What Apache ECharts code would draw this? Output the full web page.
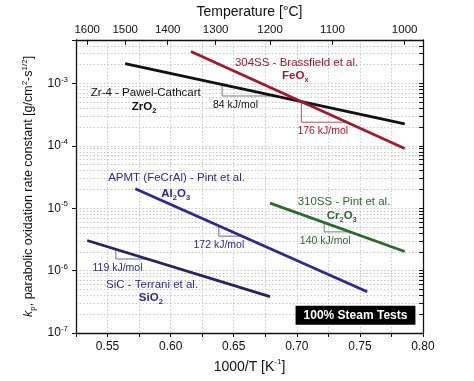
<!DOCTYPE html>
<html><head><meta charset="utf-8">
<script src="https://cdn.jsdelivr.net/npm/echarts@6/dist/echarts.min.js"></script>
<style>html,body{margin:0;padding:0;background:#fff}#c{width:474px;height:381px}</style>
</head><body><div id="c"></div>
<script>
// ---------- data (x = 1000/T [1/K], y = kp [g/cm2-s1/2]) ----------
const zr4X   = [0.5639, 0.7855];  const zr4Kp   = [2.08e-3, 2.26e-4];
const ss304X = [0.6161, 0.7855];  const ss304Kp = [3.27e-3, 9.06e-5];
const apmtX  = [0.5720, 0.7558];  const apmtKp  = [2.06e-5, 4.58e-7];
const sicX   = [0.5339, 0.6788];  const sicKp   = [3.04e-6, 3.82e-7];
const ss310X = [0.6788, 0.7855];  const ss310Kp = [1.21e-5, 2.03e-6];
// activation-energy slope triangles: x-range along each line
const zr4Tri   = [0.6408, 0.6830];
const ss304Tri = [0.7036, 0.7396];
const apmtTri  = [0.6382, 0.6566];
const sicTri   = [0.5566, 0.5816];
const ss310Tri = [0.7217, 0.7423];
// tick labels
const xTicks    = [0.55, 0.60, 0.65, 0.70, 0.75, 0.80];
const tempTicks = [1600, 1500, 1400, 1300, 1200, 1100, 1000];
const yDecades  = [-7, -6, -5, -4, -3];

// ---------- helpers ----------
const FONT = '"Liberation Sans", Arial, Helvetica, sans-serif';
function pts(xs, ys){ return xs.map((x,i)=>[x, ys[i]]); }
function lineAt(xs, ys, x){ // position along the straight Arrhenius line (log scale)
  const l0 = Math.log10(ys[0]), l1 = Math.log10(ys[1]);
  return Math.pow(10, l0 + (l1-l0)*(x-xs[0])/(xs[1]-xs[0]));
}
function tri(xs, ys, t){
  const y1 = lineAt(xs, ys, t[0]), y2 = lineAt(xs, ys, t[1]);
  return [[t[0], y1],[t[0], y2],[t[1], y2]];
}
const C = {zr:'#111111', red:'#a3192d', apmt:'#2d2a8e', sic:'#272463', green:'#2d6a2d'};

function lineSeries(name, data, color){
  return {name, type:'line', data, xAxisIndex:0, yAxisIndex:0, symbol:'none',
    lineStyle:{color, width:2.8}, z:5, silent:true, animation:false};
}
function triSeries(data, color){
  return {type:'line', data, xAxisIndex:0, yAxisIndex:0, symbol:'none',
    lineStyle:{color, width:1}, z:4, silent:true, animation:false};
}

// annotation layout (data coords)
const rich = {
  n:{fontFamily:FONT, fontSize:11.5, lineHeight:16},
  k:{fontFamily:FONT, fontSize:10.5, lineHeight:14},
  b:{fontFamily:FONT, fontSize:11.5, fontWeight:'bold', lineHeight:16},
  s:{fontFamily:FONT, fontSize:7.5, fontWeight:'bold', lineHeight:8, verticalAlign:'bottom'}
};
function ann(x, y, text, color){
  return {value:[x, y], label:{formatter:text, color}};
}
const annotations = [
  ann(0.5803, 7.2e-4, '{n|Zr-4 - Pawel-Cathcart}', '#111'),
  ann(0.5790, 4.27e-4, '{b|ZrO}{s|2}', '#111'),
  ann(0.6514, 4.54e-4, '{k|84 kJ/mol}', '#111'),
  ann(0.6998, 2.16e-3, '{n|304SS - Brassfield et al.}', C.red),
  ann(0.6988, 1.31e-3, '{b|FeO}{s|x}', C.red),
  ann(0.7206, 1.71e-4, '{k|176 kJ/mol}', C.red),
  ann(0.6047, 3.09e-5, '{n|APMT (FeCrAl) - Pint et al.}', C.apmt),
  ann(0.6040, 1.72e-5, '{b|Al}{s|2}{b|O}{s|3}', C.apmt),
  ann(0.6382, 2.54e-6, '{k|172 kJ/mol}', C.apmt),
  ann(0.5853, 5.86e-7, '{n|SiC - Terrani et al.}', C.apmt),
  ann(0.5843, 3.60e-7, '{b|SiO}{s|2}', C.apmt),
  ann(0.5579, 1.08e-6, '{k|119 kJ/mol}', C.apmt),
  ann(0.7374, 1.28e-5, '{n|310SS - Pint et al.}', C.green),
  ann(0.7356, 7.6e-6, '{b|Cr}{s|2}{b|O}{s|3}', C.green),
  ann(0.7225, 2.93e-6, '{k|140 kJ/mol}', C.green)
];

// minor log ticks for the right frame axis
const minorLog = [];
yDecades.forEach(e => { for (let k=1;k<=9;k++){ minorLog.push(Math.log10(k*Math.pow(10,e))); } });
const yMin = 1e-7, yMax = 5e-3;
const GRID = {color:'#c9c9c9', type:[1.5,2], width:1};

const option = {
  animation:false,
  backgroundColor:'#fff',
  textStyle:{fontFamily:FONT},
  grid:{left:76, right:51, top:38, bottom:48, containLabel:false},
  xAxis:[
    {type:'value', position:'bottom', min:0.525, max:0.80, interval:0.025,
     name:'{t|1000/T [K}{u|-1}{t|]}', nameLocation:'middle', nameGap:20,
     nameTextStyle:{rich:{t:{fontFamily:FONT, fontSize:14, color:'#111', lineHeight:18},
                          u:{fontFamily:FONT, fontSize:8, color:'#111', lineHeight:9, verticalAlign:'top'}}},
     axisLine:{show:true, lineStyle:{color:'#111', width:1.3}},
     axisTick:{show:true, inside:false, length:4, lineStyle:{color:'#111'}},
     axisLabel:{color:'#111', fontSize:12, fontFamily:FONT, margin:8,
       formatter:v => xTicks.some(t=>Math.abs(t-v)<1e-6) ? v.toFixed(2) : ''},
     splitLine:{show:true, lineStyle:GRID}
    },
    {type:'value', position:'top', min:0.525, max:0.80,
     name:'Temperature [°C]', nameLocation:'middle', nameGap:18,
     nameTextStyle:{fontFamily:FONT, fontSize:14, color:'#111'},
     axisLine:{show:true, lineStyle:{color:'#111', width:1.3}},
     axisTick:{show:true, inside:true, length:5, lineStyle:{color:'#111'},
       customValues: tempTicks.map(t=>1000/(t+273.15))},
     axisLabel:{color:'#111', fontSize:11.5, fontFamily:FONT, margin:4,
       customValues: tempTicks.map(t=>1000/(t+273.15)),
       formatter:v => String(Math.round(1000/v - 273.15))},
     splitLine:{show:false}
    }
  ],
  yAxis:[
    {type:'log', logBase:10, min:yMin, max:yMax, position:'left',
     name:'{i|k}{p|p}{t|, parabolic oxidation rate constant [g/cm}{u|2}{t|-s}{u|1/2}{t|]}',
     nameLocation:'middle', nameGap:27, nameRotate:90,
     nameTextStyle:{rich:{t:{fontFamily:FONT, fontSize:12.5, color:'#111', lineHeight:16},
                          i:{fontFamily:FONT, fontSize:12.5, fontStyle:'italic', color:'#111', lineHeight:16},
                          p:{fontFamily:FONT, fontSize:8, color:'#111', lineHeight:8, verticalAlign:'bottom'},
                          u:{fontFamily:FONT, fontSize:8, color:'#111', lineHeight:8, verticalAlign:'top'}}},
     axisLine:{show:true, lineStyle:{color:'#111', width:1.3}},
     axisTick:{show:true, inside:false, length:4, lineStyle:{color:'#111'}},
     axisLabel:{margin:8, color:'#111',
       formatter:v => { const l=Math.log10(v), e=Math.round(l);
         return Math.abs(l-e)<0.01 ? '{b|10}{e|'+e+'}' : ''; },
       rich:{b:{fontFamily:FONT, fontSize:12, color:'#111', lineHeight:16},
             e:{fontFamily:FONT, fontSize:8, color:'#111', lineHeight:8, verticalAlign:'top'}}},
     splitLine:{show:false}
    },
    {type:'value', position:'right', min:Math.log10(yMin), max:Math.log10(yMax),
     axisLine:{show:true, lineStyle:{color:'#111', width:1.3}},
     axisTick:{show:true, inside:true, length:4, lineStyle:{color:'#111'},
       customValues:minorLog},
     axisLabel:{show:false},
     splitLine:{show:true, lineStyle:GRID}
    }
  ],
  series:[
    triSeries(tri(zr4X, zr4Kp, zr4Tri), '#7a7a7a'),
    triSeries(tri(ss304X, ss304Kp, ss304Tri), '#b5505e'),
    triSeries(tri(apmtX, apmtKp, apmtTri), '#6b68ad'),
    triSeries(tri(sicX, sicKp, sicTri), '#6e6a9c'),
    triSeries(tri(ss310X, ss310Kp, ss310Tri), '#6e8e6e'),
    lineSeries('Zr-4', pts(zr4X, zr4Kp), C.zr),
    lineSeries('304SS', pts(ss304X, ss304Kp), C.red),
    lineSeries('APMT', pts(apmtX, apmtKp), C.apmt),
    lineSeries('SiC', pts(sicX, sicKp), C.sic),
    lineSeries('310SS', pts(ss310X, ss310Kp), C.green),
    {type:'scatter', xAxisIndex:0, yAxisIndex:0, symbolSize:0, silent:true, z:6,
     itemStyle:{opacity:1}, data:annotations,
     label:{show:true, position:'inside', align:'center', verticalAlign:'middle', rich}},
    {type:'scatter', xAxisIndex:0, yAxisIndex:0, symbolSize:0, silent:true, z:7,
     itemStyle:{opacity:1}, data:[[0.7465, 1.93e-7]],
     label:{show:true, position:'inside', formatter:'100% Steam Tests',
       color:'#fff', backgroundColor:'#000', fontFamily:FONT, fontWeight:'bold',
       fontSize:12, padding:[4,8,3,8]}}
  ]
};
const chart = echarts.init(document.getElementById('c'), null, {renderer:'canvas'});
chart.setOption(option);
</script>
</body></html>
